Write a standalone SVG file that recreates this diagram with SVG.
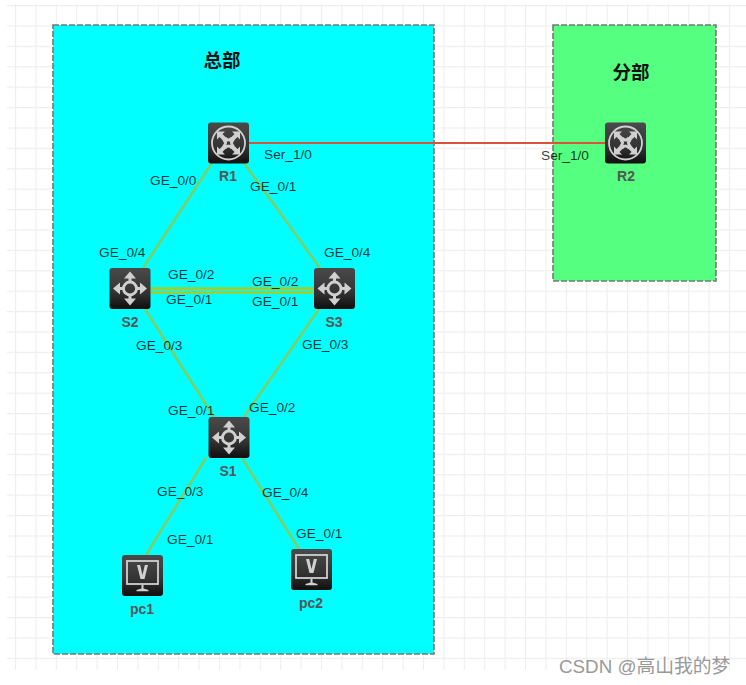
<svg xmlns="http://www.w3.org/2000/svg" width="746" height="685" viewBox="0 0 746 685">
<style>
.lb{font:13.700px "Liberation Sans",Arial,sans-serif;fill:#000;fill-opacity:.78}
.nm{font:bold 14px "Liberation Sans",Arial,sans-serif;fill:#555;text-anchor:middle}
.ttl{font:bold 18.500px "Noto Sans CJK SC",sans-serif;fill:#111;text-anchor:middle}
.area{stroke:#777;stroke-width:1.600;stroke-dasharray:6 2}
.gl{stroke:#7fce60;stroke-width:2.500;fill:none}
.yl{stroke:#a9cc22;stroke-width:2.300;fill:none}
.ic{fill:none;stroke:#d0d0d0}
.icf{fill:#d0d0d0}
</style>
<defs>
<linearGradient id="bg" x1="0" y1="0" x2="0" y2="1">
<stop offset="0" stop-color="#4a4a4a"/><stop offset=".6" stop-color="#333"/><stop offset="1" stop-color="#0e0e0e"/>
</linearGradient>
<pattern id="grid" x="15" y="5" width="20.400" height="20.400" patternUnits="userSpaceOnUse">
<path d="M0 0V20.400M0 0H20.400" fill="none" stroke="#eeeeee" stroke-width="2.200"/>
</pattern>
<g id="box"><rect width="41" height="41" rx="3" fill="url(#bg)"/></g>
<g id="router">
<use href="#box"/>
<circle cx="20.500" cy="20.500" r="16.500" class="ic" stroke-width="1.800"/>
<path class="ic" stroke-width="4" d="M12 12L17.500 17.500M29 12L23.500 17.500M12 29L17.500 23.500M29 29L23.500 23.500"/>
<path class="ic" stroke-width="3" d="M17 15.500Q20.500 19.500 24 15.500M17 25.500Q20.500 21.500 24 25.500M15.500 17Q19.500 20.500 15.500 24M25.500 17Q21.500 20.500 25.500 24"/>
<path class="icf" d="M9 9h8l-8 8zM32 9v8l-8-8zM9 32v-8l8 8zM32 32h-8l8-8z"/>
</g>
<g id="switch">
<use href="#box"/>
<circle cx="20.500" cy="20.500" r="6.500" class="ic" stroke-width="2.800"/>
<path class="ic" stroke-width="3" d="M20.500 14V8M20.500 27V33M14 20.500H8M27 20.500H33"/>
<path class="icf" d="M20.500 3.500l6 7h-12zM20.500 37.500l6-7h-12zM3.500 20.500l7-6v12zM37.500 20.500l-7-6v12z"/>
</g>
<g id="pc">
<use href="#box"/>
<rect x="5" y="6" width="31" height="23" class="ic" stroke-width="1.800"/>
<path class="icf" d="M15 10h3.200l2.300 10 2.300-10H26l-3.500 14h-4zM19.500 30h2v3.500l5 1.500v1.200H14.500V35l5-1.500z"/>
</g>
</defs>
<rect width="746" height="685" fill="#fff"/>
<path d="M7 4H746V670H7z" fill="url(#grid)"/>
<rect class="area" x="53" y="25" width="381" height="629" fill="#00ffff"/>
<rect class="area" x="553" y="25" width="163" height="256" fill="#55ff80"/>
<text class="ttl" x="222" y="67">总部</text>
<text class="ttl" x="631" y="79">分部</text>
<g id="connectors">
<path d="M249 143H605" fill="none" stroke="#d9533c" stroke-width="1.800"/>
<path class="gl" d="M212 163L143 268M244 163L320 268M145 309L214 417M319 309L244 417M206 458L146 555M242 458L299 549"/>
<path class="yl" d="M150 288.500H314M150 292.500H314"/>
</g>
<g id="R1"><use href="#router" x="208" y="122.500"/><text class="nm" x="228" y="181">R1</text></g>
<g id="R2"><use href="#router" x="605" y="122.500"/><text class="nm" x="626" y="181">R2</text></g>
<g id="S2"><use href="#switch" x="109.500" y="268"/><text class="nm" x="130" y="327">S2</text></g>
<g id="S3"><use href="#switch" x="314" y="268"/><text class="nm" x="334" y="327">S3</text></g>
<g id="S1"><use href="#switch" x="208.500" y="417"/><text class="nm" x="228" y="476">S1</text></g>
<g id="pc1"><use href="#pc" x="122" y="555"/><text class="nm" x="142" y="614">pc1</text></g>
<g id="pc2"><use href="#pc" x="291" y="549"/><text class="nm" x="311" y="608">pc2</text></g>
<g id="labels">
<text class="lb" x="264" y="159">Ser_1/0</text>
<text class="lb" x="541" y="160">Ser_1/0</text>
<text class="lb" x="150" y="185">GE_0/0</text>
<text class="lb" x="250" y="191">GE_0/1</text>
<text class="lb" x="99" y="257">GE_0/4</text>
<text class="lb" x="324" y="257">GE_0/4</text>
<text class="lb" x="168" y="279">GE_0/2</text>
<text class="lb" x="252" y="286">GE_0/2</text>
<text class="lb" x="166" y="304">GE_0/1</text>
<text class="lb" x="252" y="306">GE_0/1</text>
<text class="lb" x="136" y="350">GE_0/3</text>
<text class="lb" x="302" y="349">GE_0/3</text>
<text class="lb" x="168" y="415">GE_0/1</text>
<text class="lb" x="249" y="412">GE_0/2</text>
<text class="lb" x="157" y="496">GE_0/3</text>
<text class="lb" x="262" y="497">GE_0/4</text>
<text class="lb" x="167" y="544">GE_0/1</text>
<text class="lb" x="296" y="538">GE_0/1</text>
</g>
<text x="559" y="673" style="font:18.800px 'Liberation Sans','Noto Sans CJK SC',sans-serif;fill:#999">CSDN @高山我的梦</text>
</svg>
